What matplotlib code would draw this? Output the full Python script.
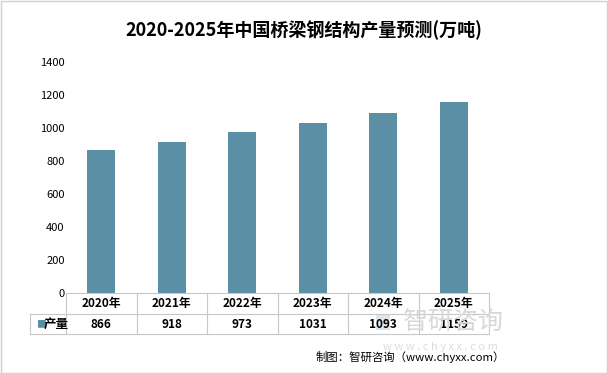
import matplotlib.pyplot as plt
from matplotlib.patches import Rectangle

plt.rcParams['font.family'] = ['Noto Sans CJK SC', 'DejaVu Sans']

years = ['2020年', '2021年', '2022年', '2023年', '2024年', '2025年']
output = [866, 918, 973, 1031, 1093, 1159]
series_name = '产量'
title = '2020-2025年中国桥梁钢结构产量预测(万吨)'
source = '制图：智研咨询（www.chyxx.com）'

bar_color = '#5B8FA6'
line_color = '#C8C8C8'

W, H = 608, 373
fig = plt.figure(figsize=(W / 100, H / 100), dpi=100)
fig.patch.set_facecolor('white')
fig.add_artist(Rectangle((0.5 / W, 0.5 / H), 1 - 1.5 / W, 1 - 1.5 / H, transform=fig.transFigure,
                         fill=False, edgecolor='#D0D0D0', linewidth=1))

ax = fig.add_axes([66 / W, (H - 293) / H, (489 - 66) / W, (293 - 62) / H])
x = list(range(len(years)))
ax.bar(x, output, width=0.4, color=bar_color, zorder=2)
ax.set_xlim(-0.5, len(years) - 0.5)
ax.set_ylim(0, 1400)
ax.set_yticks(range(0, 1401, 200))
ax.tick_params(axis='y', length=0, labelsize=8, pad=1)
ax.set_xticks([])
for s in ax.spines.values():
    s.set_visible(False)

# data table under the axis
tr = ax.get_xaxis_transform()
row1 = -21 / 231
row2 = -41 / 231
left = -0.5 - 36 / 70.5
kw = dict(transform=tr, color=line_color, linewidth=0.8, clip_on=False)
ax.plot([-0.5, len(years) - 0.5], [0, 0], **kw)
ax.plot([left, len(years) - 0.5], [row1, row1], **kw)
ax.plot([left, len(years) - 0.5], [row2, row2], **kw)
ax.plot([left, left], [row1, row2], **kw)
for b in range(len(years) + 1):
    ax.plot([b - 0.5, b - 0.5], [0, row2], **kw)

# watermark (behind the table text)
fig.text(453 / W, 1 - 322 / H, '智研咨询', ha='center', va='center', fontsize=18, color='#D8D8D8', zorder=0)
fig.text(440 / W, 1 - 347 / H, 'w w w . c h y x x . c o m', ha='center', va='center', fontsize=8,
         color='#DDDDDD', zorder=0)
fig.add_artist(Rectangle((376 / W, 1 - 330 / H), 14 / W, 16 / H, transform=fig.transFigure,
                         facecolor='#DCE6EE', edgecolor='none', zorder=0))

for i, (yr, v) in enumerate(zip(years, output)):
    ax.text(i, row1 / 2, yr, transform=tr, ha='center', va='center', fontsize=8.5, fontweight='bold')
    ax.text(i, (row1 + row2) / 2, str(v), transform=tr, ha='center', va='center', fontsize=8.5,
            fontweight='bold')
ax.text(left + 0.08, (row1 + row2) / 2, '■', transform=tr, ha='left', va='center', fontsize=7,
        color=bar_color)
ax.text(left + 0.2, (row1 + row2) / 2, series_name, transform=tr, ha='left', va='center', fontsize=9,
        fontweight='bold')

fig.text(0.5, 1 - 30 / H, title, ha='center', va='center', fontsize=13, fontweight='bold')

fig.text(505 / W, 1 - 357 / H, source, ha='right', va='center', fontsize=8.2)

fig.savefig('out.png', dpi=100)
